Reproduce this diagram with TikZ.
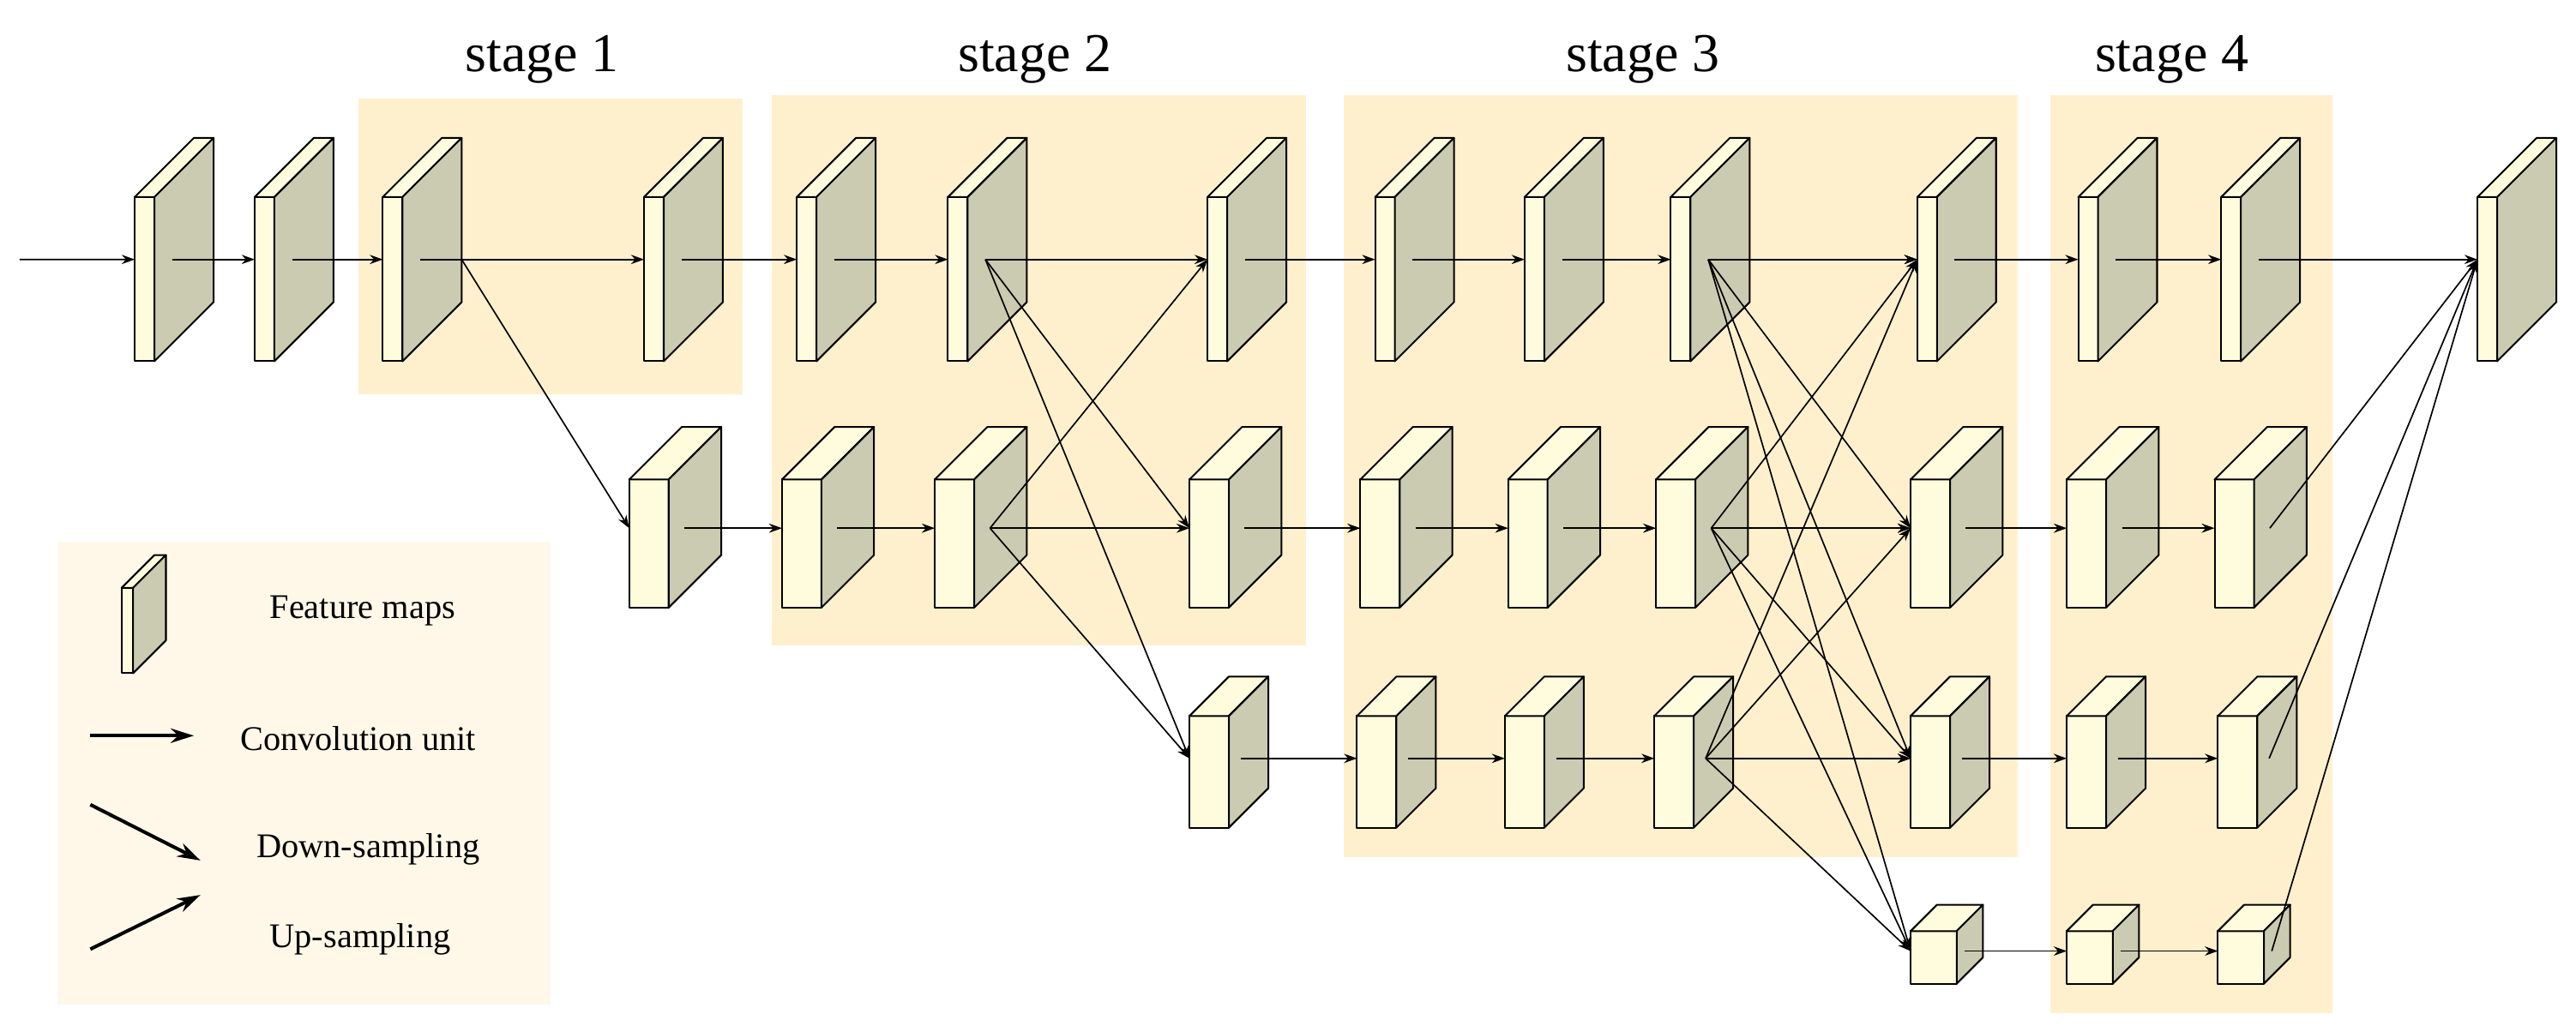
\documentclass[tikz,border=0pt]{standalone}
\usepackage{fontspec}
\setmainfont{Liberation Serif}
\usetikzlibrary{arrows.meta}
\definecolor{frontc}{HTML}{FFFCDE}
\definecolor{sidec}{HTML}{CBCBB1}
\definecolor{stagec}{HTML}{FFF0CD}
\definecolor{legc}{HTML}{FFF8E9}
\tikzset{
 face/.style={fill=frontc,draw=black,line width=0.6pt,line join=round},
 sideface/.style={fill=sidec,draw=black,line width=0.6pt,line join=round},
 conv/.style={-{Stealth[length=4.5pt,width=3.2pt]},line width=0.5pt},
 lconv/.style={-{Stealth[length=8pt,width=5pt]},line width=1.2pt},
 stagelbl/.style={font=\fontsize{19}{22}\selectfont},
 leglbl/.style={font=\fontsize{12}{14}\selectfont,anchor=west}
}
\newcommand\fmap[6]{%
 \draw[face] (#2,#3) rectangle ++(#4,#5);
 \draw[face] (#2,#3) -- ++(#4,0) -- ++(#6,-#6) -- ++(-#4,0) -- cycle;
 \draw[sideface] (#2+#4,#3) -- ++(#6,-#6) -- ++(0,#5) -- ++(-#6,#6) -- cycle;
 \coordinate (#1i) at (#2,#3+0.38*#5);
 \coordinate (#1o) at (#2+#4+0.3*#6,#3+0.38*#5);
 \coordinate (#1e) at (#2+#4+#6,#3+0.38*#5);
}
\begin{document}
\begin{tikzpicture}[x=0.02cm,y=-0.02cm]
\useasboundingbox (0,0) rectangle (1568,628);
% backgrounds
\fill[stagec] (218,60) rectangle (452,240);
\fill[stagec] (470,58) rectangle (795,393);
\fill[stagec] (818,58) rectangle (1228,522);
\fill[stagec] (1248,58) rectangle (1420,617);
\fill[legc] (35,330) rectangle (335,612);
\node[stagelbl] (s1) at (330,36) {stage 1};
\node[stagelbl] (s2) at (630,36) {stage 2};
\node[stagelbl] (s3) at (1000,36) {stage 3};
\node[stagelbl] (s4) at (1322,36) {stage 4};
% feature maps
\foreach \n/\x in {a/82,b/155,c/233,d/392,e/485,f/577,g/735,h/837,i/928,j/1017,k/1167,l/1265,m/1352,z/1508}{\fmap{r1\n}{\x}{120}{12}{100}{36}}
\foreach \n/\x in {a/383,b/476,c/569,d/724,e/828,f/918,g/1008,h/1163,i/1258,j/1348}{\fmap{r2\n}{\x}{292}{24}{78}{32}}
\foreach \n/\x in {a/724,b/826,c/916,d/1007,e/1163,f/1258,g/1350}{\fmap{r3\n}{\x}{436}{24}{68}{24}}
\foreach \n/\x in {a/1163,b/1258,c/1350}{\fmap{r4\n}{\x}{567}{28}{32}{16}}
\coordinate (in) at (12,158);
\draw[conv] (in) -- (r1ai);
% horizontal chains
\foreach \a/\b in {a/b,b/c,c/d,d/e,e/f,f/g,g/h,h/i,i/j,j/k,k/l,l/m,m/z}{\draw[conv] (r1\a o) -- (r1\b i);}
\foreach \a/\b in {a/b,b/c,c/d,d/e,e/f,f/g,g/h,h/i,i/j}{\draw[conv] (r2\a o) -- (r2\b i);}
\foreach \a/\b in {a/b,b/c,c/d,d/e,e/f,f/g}{\draw[conv] (r3\a o) -- (r3\b i);}
\foreach \a/\b in {a/b,b/c}{\draw[conv] (r4\a o) -- (r4\b i);}
% stage 1 -> 2
\draw[conv] (r1ce) -- (r2ai);
% stage 2 exchange
\draw[conv] (r1fo) -- (r2di);
\draw[conv] (r1fo) -- (r3ai);
\draw[conv] (r2co) -- (r1gi);
\draw[conv] (r2co) -- (r3ai);
% stage 3 exchange
\foreach \s in {r1j,r2g,r3d}{
 \foreach \t in {r1k,r2h,r3e,r4a}{\draw[conv] (\s o) -- (\t i);}}
% final fusion
\draw[conv] (r2jo) -- (r1zi);
\draw[conv] (r3go) -- (r1zi);
\draw[conv] (r4co) -- (r1zi);
% legend
\fmap{lg}{74}{358}{7}{52}{20}
\node[leglbl] (t1) at (158,372) {Feature maps};
\coordinate (l1a) at (55,448); \coordinate (l1b) at (118,448);
\draw[lconv] (l1a) -- (l1b);
\node[leglbl] (t2) at (140,450) {Convolution unit};
\coordinate (l2a) at (55,490); \coordinate (l2b) at (122,524);
\draw[lconv] (l2a) -- (l2b);
\node[leglbl] (t3) at (150,517) {Down-sampling};
\coordinate (l3a) at (55,578); \coordinate (l3b) at (122,545);
\draw[lconv] (l3a) -- (l3b);
\node[leglbl] (t4) at (158,572) {Up-sampling};
\end{tikzpicture}
\end{document}
